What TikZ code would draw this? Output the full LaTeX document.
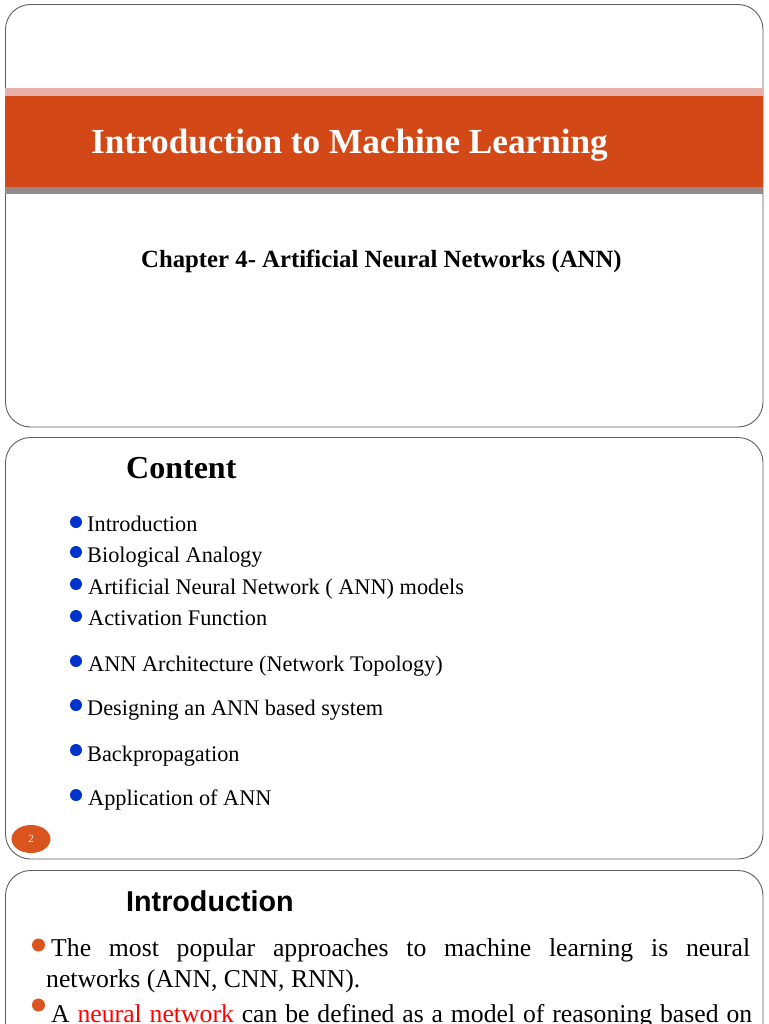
\documentclass[tikz,border=0pt]{standalone}
\usepackage{fontspec}
\usetikzlibrary{shapes.geometric}
\setmainfont{Liberation Serif}
\setsansfont{Liberation Sans}
\definecolor{slideline}{HTML}{5E5E5E}
\definecolor{bandorange}{HTML}{D34817}
\definecolor{bandpink}{HTML}{E8B0A8}
\definecolor{bandgrey}{HTML}{948A8A}
\definecolor{dotblue}{HTML}{0033CC}
\definecolor{dotorange}{HTML}{D9541E}
\tikzset{
  slide/.style={draw=slideline,line width=0.9pt,rounded corners=25pt},
  item/.style={anchor=base west,inner sep=0pt,font=\fontsize{22.3}{26}\selectfont},
  body/.style={anchor=base west,inner sep=0pt,font=\fontsize{25.7}{30}\selectfont},
  dot/.style={circle,inner sep=0pt,minimum size=#1},
}
\begin{document}
\begin{tikzpicture}[x=1pt,y=-1pt]
\useasboundingbox (0,0) rectangle (768,1024);
\clip (0,0) rectangle (768,1024);
\fill[white] (0,0) rectangle (768,1024);
\draw[slide] (5.5,4.5) rectangle (763,427);
\draw[slide] (5.5,437.5) rectangle (763,859);
\draw[slide] (5.5,870.5) rectangle (763,1100);
\fill[bandpink] (5,88) rectangle (763,96);
\fill[bandorange] (5,96) rectangle (763,187);
\fill[bandgrey] (5,187) rectangle (763,194.5);
\node[anchor=base west,inner sep=0pt,text=white,font=\fontsize{35.2}{40}\selectfont\bfseries] (title) at (91,154) {Introduction to Machine Learning};
\node[anchor=base west,inner sep=0pt,font=\fontsize{24.75}{28}\selectfont\bfseries] (chapter) at (141,267) {Chapter 4- Artificial Neural Networks (ANN)};
\node[anchor=base west,inner sep=0pt,font=\fontsize{32}{36}\selectfont\bfseries] (content) at (126,478) {Content};
\foreach \name/\ytext/\ydot/\xtext/\itemtext in {
  intro/531/522/87/Introduction,
  bio/562.5/552/87/Biological Analogy,
  models/594/584/88/Artificial Neural Network ( ANN) models,
  activation/625/616/88/Activation Function,
  topology/671/661/88/ANN Architecture (Network Topology),
  designing/715/705/87/Designing an ANN based system,
  backprop/761/750/87/Backpropagation,
  application/805/795/88/Application of ANN}
{
  \node[dot=12pt,fill=dotblue] (dot\name) at (76,\ydot) {};
  \node[item] (\name) at (\xtext,\ytext) {\itemtext};
}
\node[ellipse,minimum width=39pt,minimum height=28pt,inner sep=0pt,fill=dotorange,text=white,font=\fontsize{11}{12}\selectfont] (pagenum) at (31,839) {2};
\node[anchor=base west,inner sep=0pt,font=\sffamily\bfseries\fontsize{28.7}{32}\selectfont] (heading) at (126,911) {Introduction};
\node[dot=13pt,fill=dotorange] (dotfirst) at (38.5,945) {};
\node[body] (first) at (51,956) {\makebox[699pt][s]{The most popular approaches to machine learning is neural}};
\node[body] (firstb) at (46,987) {networks (ANN, CNN, RNN).};
\node[dot=13pt,fill=dotorange] (dotsecond) at (38.5,1005) {};
\node[body] (second) at (51,1022) {\makebox[701pt][s]{A \textcolor{red}{neural network} can be defined as a model of reasoning based on}};
\end{tikzpicture}
\end{document}
